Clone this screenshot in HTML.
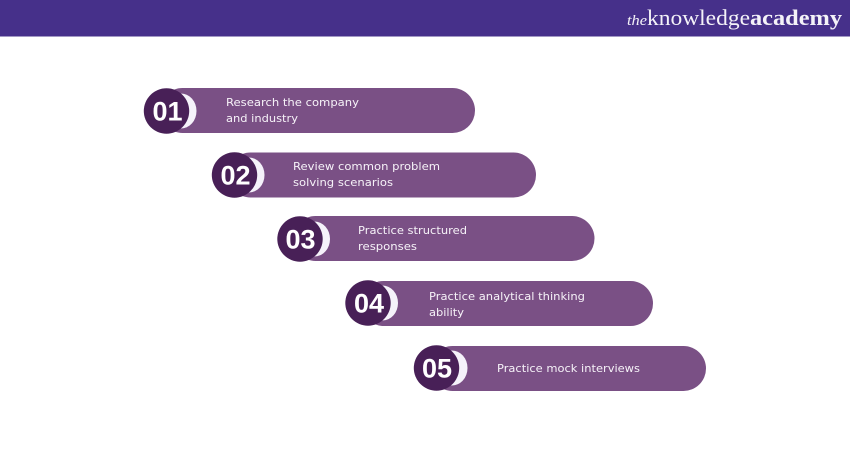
<!DOCTYPE html>
<html><head><meta charset="utf-8"><style>
html,body{margin:0;padding:0;background:#fff;width:850px;height:450px;overflow:hidden}
svg{display:block}
.t{font-family:"DejaVu Sans",sans-serif;font-size:11px;fill:#f6f2f8}
.n{font-family:"Liberation Sans",sans-serif;font-size:27px;font-weight:700;fill:#fff;text-anchor:middle}
.l{font-family:"Liberation Serif",serif;fill:#f4f2f8}
</style></head><body>
<svg width="850" height="450" viewBox="0 0 850 450" xmlns="http://www.w3.org/2000/svg">
<rect width="850" height="450" fill="#fff"/>
<rect width="850" height="36.5" fill="#46308a"/>
<text class="l" x="627" y="25" font-size="15" font-style="italic" textLength="20" lengthAdjust="spacingAndGlyphs">the</text>
<text class="l" x="647" y="25" font-size="22" textLength="103" lengthAdjust="spacingAndGlyphs">knowledge</text>
<text class="l" x="750" y="25" font-size="22" font-weight="700" textLength="92" lengthAdjust="spacingAndGlyphs">academy</text>

<rect x="160" y="88" width="315" height="45" rx="22.5" fill="#7a5085"/>
<ellipse cx="181" cy="111" rx="15.5" ry="17.5" fill="#f5f2fa"/>
<circle cx="166.5" cy="111" r="22.7" fill="#482057"/>
<text class="n" x="167.500" y="120.500">01</text>
<text class="t" x="226" y="106" textLength="133" lengthAdjust="spacingAndGlyphs">Research the company</text>
<text class="t" x="226" y="122" textLength="72" lengthAdjust="spacingAndGlyphs">and industry</text>

<rect x="228" y="152.500" width="308" height="45" rx="22.5" fill="#7a5085"/>
<ellipse cx="249" cy="175" rx="15.500" ry="17.500" fill="#f5f2fa"/>
<circle cx="234.500" cy="175" r="22.700" fill="#482057"/>
<text class="n" x="235.500" y="184.500">02</text>
<text class="t" x="293" y="170" textLength="147" lengthAdjust="spacingAndGlyphs">Review common problem</text>
<text class="t" x="293" y="186" textLength="100" lengthAdjust="spacingAndGlyphs">solving scenarios</text>

<rect x="293" y="216" width="301.500" height="45" rx="22.5" fill="#7a5085"/>
<ellipse cx="314.500" cy="239" rx="15.500" ry="17.500" fill="#f5f2fa"/>
<circle cx="300" cy="239" r="22.700" fill="#482057"/>
<text class="n" x="300.500" y="248.500">03</text>
<text class="t" x="358" y="234" textLength="109" lengthAdjust="spacingAndGlyphs">Practice structured</text>
<text class="t" x="358" y="250" textLength="59" lengthAdjust="spacingAndGlyphs">responses</text>

<rect x="361" y="281" width="292" height="45" rx="22.5" fill="#7a5085"/>
<ellipse cx="382.500" cy="303" rx="15.500" ry="17.500" fill="#f5f2fa"/>
<circle cx="368" cy="303" r="22.700" fill="#482057"/>
<text class="n" x="369" y="312.500">04</text>
<text class="t" x="429" y="300" textLength="156" lengthAdjust="spacingAndGlyphs">Practice analytical thinking</text>
<text class="t" x="429" y="316" textLength="35" lengthAdjust="spacingAndGlyphs">ability</text>

<rect x="430" y="346" width="276" height="45" rx="22.5" fill="#7a5085"/>
<ellipse cx="452" cy="368" rx="15.500" ry="17.500" fill="#f5f2fa"/>
<circle cx="436.500" cy="368" r="22.700" fill="#482057"/>
<text class="n" x="437" y="377.500">05</text>
<text class="t" x="497" y="372" textLength="143" lengthAdjust="spacingAndGlyphs">Practice mock interviews</text>
</svg>
</body></html>
